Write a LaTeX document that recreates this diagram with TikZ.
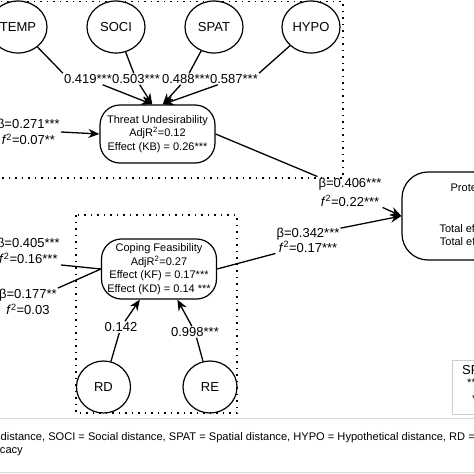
\documentclass[tikz,border=0pt]{standalone}
\usepackage{fontspec}
\setmainfont{Liberation Sans}
\usepackage{tikz}
\usetikzlibrary{arrows.meta,shapes.geometric,positioning}

\begin{document}
\begin{tikzpicture}[x=1pt, y=-1pt]
% STYLES
\tikzset{
    latent/.style={ellipse, draw, line width=1.2pt, minimum width=58pt,
    minimum height=52pt, inner sep=0pt, font=\fontsize{13}{15}\selectfont},
    construct/.style={rectangle, draw, rounded corners=20pt, line width=1.2pt,
    minimum width=115pt, minimum height=58pt, align=center, inner sep=2pt,
    font=\fontsize{11}{13.5}\selectfont},
    coef/.style={align=center, inner sep=1pt, font=\fontsize{13}{16}\selectfont},
    dotbox/.style={line width=1.3pt, dash pattern=on 1.5pt off 5pt},
    link/.style={line width=1.3pt},
    linkarr/.style={line width=1.3pt, -{Stealth[length=11pt, width=9pt]}},
    rule/.style={gray!30, line width=1pt},
    note/.style={inner sep=0pt, font=\fontsize{11.1}{13}\selectfont}
}
\useasboundingbox (0,0) rectangle (474,474);
\clip (0,0) rectangle (474,474);

% groups
\draw[dotbox] (-10,1.5) rectangle (343,178);
\draw[dotbox] (76,215) rectangle (237,413);

% distances
\node[latent] (TEMP) at (18,27) {TEMP};
\node[latent] (SOCI) at (116,27) {SOCI};
\node[latent] (SPAT) at (214,27) {SPAT};
\node[latent] (HYPO) at (311,27) {HYPO};
\node[coef] (c1) at (88,79) {0.419***};
\node[coef] (c2) at (136,79) {0.503***};
\node[coef] (c3) at (186,79) {0.488***};
\node[coef] (c4) at (234,79) {0.587***};

% constructs
\node[construct] (TU) at (157.5,134) {Threat Undesirability\\AdjR\textsuperscript{2}=0.12\\Effect (KB) = 0.26***};
\node[construct, minimum height=60pt] (CF) at (159,269) {Coping Feasibility\\AdjR\textsuperscript{2}=0.27\\Effect (KF) = 0.17***\\Effect (KD) = 0.14 ***};
\node[construct, rounded corners=26pt, minimum width=200pt, minimum height=88pt] (PM) at (502,216) {Protection Motivation\\AdjR\textsuperscript{2}=0.41\\ \\Total effect (KB) = 0.38***\\Total effect (KF) = 0.22***};

\node[latent, minimum width=54pt] (RD) at (103.5,387) {RD};
\node[latent, minimum width=54pt] (RE) at (210,387) {RE};
\node[coef] (r1) at (121,327) {0.142};
\node[coef] (r2) at (195,332) {0.998***};

% path coefficients
\node[coef, anchor=east] (t1) at (61,132) {β=0.271***\\\textit{f}\textsuperscript{2}=0.07**};
\node[coef, anchor=east] (l1) at (61,251) {β=0.405***\\\textit{f}\textsuperscript{2}=0.16***};
\node[coef, anchor=east] (l2) at (58,302) {β=0.177**\\\textit{f}\textsuperscript{2}=0.03};
\node[coef, font=\fontsize{13}{19}\selectfont] (b1) at (350,192) {β=0.406***\\\textit{f}\textsuperscript{2}=0.22***};
\node[coef, font=\fontsize{13}{15}\selectfont] (b2) at (308,240) {β=0.342***\\\textit{f}\textsuperscript{2}=0.17***};

% legend
\node[draw=gray!40, line width=0.8pt, minimum width=40pt, minimum height=54pt, anchor=north west] (key) at (452,360) {};
\node[note, anchor=west, font=\fontsize{13}{15}\selectfont] (k1) at (462,370) {SPSS};
\node[note, anchor=west] (k2) at (467,384) {***p$<$0.001};
\node[note, anchor=west] (k3) at (472,400) {**p$<$0.01};

% note
\draw[rule] (0,418) -- (474,418);
\draw[rule] (0,472) -- (474,472);
\node[note, anchor=east] (n1) at (475,438) {TEMP = Temporal distance, SOCI = Social distance, SPAT = Spatial distance, HYPO = Hypothetical distance, RD =};
\node[note, anchor=east] (n2) at (23,451) {RE = Response efficacy};

% Draw the links between
\path[link]
   (TEMP) edge (c1.north west)
   (SOCI) edge (c2)
   (SPAT) edge (c3)
   (HYPO) edge (c4.north east)
   (TU.east) edge (b1.north west)
   (CF.east) edge (b2.south west)
   (l1.south east) edge (CF.west)
   (l2.north east) edge (CF.west)
   (RD) edge (r1)
   (RE) edge (r2);
\path[linkarr]
   (c1) edge (TU.100)
   (c2) edge (TU.100)
   (c3) edge (TU.80)
   (c4) edge (TU.80)
   (t1.east) edge (TU.west)
   (b1.south east) edge (PM.west)
   (b2.20) edge (PM.west)
   (r1) edge (CF.238)
   (r2) edge (CF.301);
\end{tikzpicture}
\end{document}
